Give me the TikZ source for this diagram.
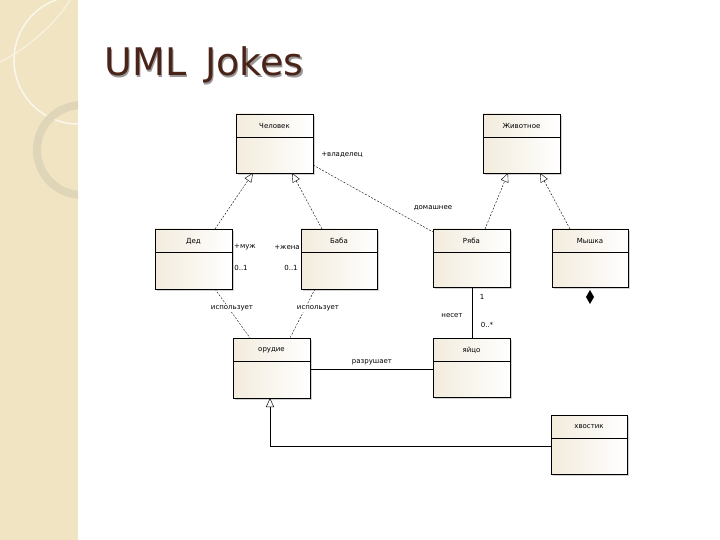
\documentclass[tikz,border=0pt]{standalone}
\usepackage{fontspec}
\setmainfont{DejaVu Sans}
\usetikzlibrary{arrows.meta,shadows}
\definecolor{beige}{HTML}{F0E4C2}
\definecolor{boxf}{HTML}{F3ECDD}
\definecolor{titlec}{HTML}{4A2418}
\begin{document}
\begin{tikzpicture}[x=1pt,y=-1pt,
  cls/.style={draw=black,line width=0.6pt,left color=boxf,right color=white,drop shadow={shadow xshift=2pt,shadow yshift=-2pt,fill=black!35}},
  t/.style={font=\fontsize{7}{8}\selectfont,inner sep=0pt},
  gen/.style={-{Triangle[open,fill=white,length=9pt,width=8pt]},line width=0.4pt},
  dep/.style={dash pattern=on 2pt off 1.5pt,line width=0.4pt}]
\useasboundingbox (0,0) rectangle (720,540);
\fill[white] (0,0) rectangle (720,540);
\fill[beige] (0,0) rectangle (78,540);
\begin{scope}
\clip (0,0) rectangle (78,540);
\draw[white!70!beige,line width=1.5pt] (78,60) circle (64);
\draw[white!60!beige,line width=1pt] (0,62) .. controls (25,50) and (55,25) .. (70,0);
\draw[beige!85!gray,line width=8pt] (82,150) circle (45);
\end{scope}
\node[font=\fontsize{38}{44}\selectfont,text=black!40,anchor=base west] at (102.3,77.3) {UML\,\,\,Jokes};
\node[font=\fontsize{38}{44}\selectfont,text=titlec,anchor=base west] (title) at (101,76) {UML\,\,\,Jokes};
% classes
\draw[cls] (236,114) rectangle (313,173); \draw (236,137)--(313,137);
\node[t] (chel) at (274.5,126) {Человек};
\draw[cls] (483,114) rectangle (560,173); \draw (483,137)--(560,137);
\node[t] (zhiv) at (521.5,126) {Животное};
\draw[cls] (155,229) rectangle (232,289); \draw (155,252)--(232,252);
\node[t] (ded) at (193.5,241) {Дед};
\draw[cls] (301,229) rectangle (377,289); \draw (301,252)--(377,252);
\node[t] (baba) at (339,241) {Баба};
\draw[cls] (433,229) rectangle (510,287); \draw (433,252)--(510,252);
\node[t] (ryaba) at (471.5,241) {Ряба};
\draw[cls] (552,229) rectangle (628,287); \draw (552,252)--(628,252);
\node[t] (mysh) at (590,241) {Мышка};
\draw[cls] (233,338) rectangle (310,398); \draw (233,361)--(310,361);
\node[t] (orud) at (271.5,350) {орудие};
\draw[cls] (433,338) rectangle (510,397); \draw (433,361)--(510,361);
\node[t] (yaitso) at (471.5,350) {яйцо};
\draw[cls] (551,415) rectangle (627,474); \draw (551,438)--(627,438);
\node[t] (hvost) at (589,427) {хвостик};
% coordinates on box edges
\coordinate (chelB1) at (253,173); \coordinate (chelB2) at (292,173);
\coordinate (chelR) at (313,165);
\coordinate (dedT) at (215,229); \coordinate (babaT) at (322,229);
\coordinate (dedB) at (215,289); \coordinate (babaB) at (315,289);
\coordinate (orT1) at (250,338); \coordinate (orT2) at (290,338);
\coordinate (orR) at (310,369); \coordinate (orB) at (270,398);
\coordinate (zhB1) at (508,173); \coordinate (zhB2) at (540,173);
\coordinate (ryT) at (485,229); \coordinate (ryL) at (433,232);
\coordinate (ryB) at (472,287); \coordinate (myT) at (570,229);
\coordinate (yaT) at (472,338); \coordinate (yaL) at (433,369);
\coordinate (hvL) at (551,446); \coordinate (corner) at (270,446);
\draw[gen,dep] (dedT) -- (chelB1);
\draw[gen,dep] (babaT) -- (chelB2);
\draw[gen,dep] (ryT) -- (zhB1);
\draw[gen,dep] (myT) -- (zhB2);
\draw[dep] (chelR) -- (ryL);
\draw[dep] (dedB) -- (orT1);
\draw[dep] (babaB) -- (orT2);
\draw[line width=0.5pt] (ryB) -- (yaT);
\draw[line width=0.5pt] (orR) -- (yaL);
\draw[gen,line width=0.5pt] (hvL) -- (corner) -- (orB);
\fill[black] (590,290) -- (594,297) -- (590,304) -- (586,297) -- cycle;
% labels
\node[t,fill=white,inner sep=1pt] (l1) at (342,155) {+владелец};
\node[t,fill=white,inner sep=1pt] (l2) at (433,208) {домашнее};
\node[t] (l3) at (245,247) {+муж};
\node[t] (l4) at (241,268) {0..1};
\node[t] (l5) at (287,247) {+жена};
\node[t] (l6) at (291,268) {0..1};
\node[t,fill=white,inner sep=1pt] (l7) at (232,308) {использует};
\node[t,fill=white,inner sep=1pt] (l8) at (318,308) {использует};
\node[t] (l9) at (482,297) {1};
\node[t] (l10) at (452,316) {несет};
\node[t] (l11) at (487,325) {0..*};
\node[t] (l12) at (372,362) {разрушает};
\end{tikzpicture}
\end{document}
